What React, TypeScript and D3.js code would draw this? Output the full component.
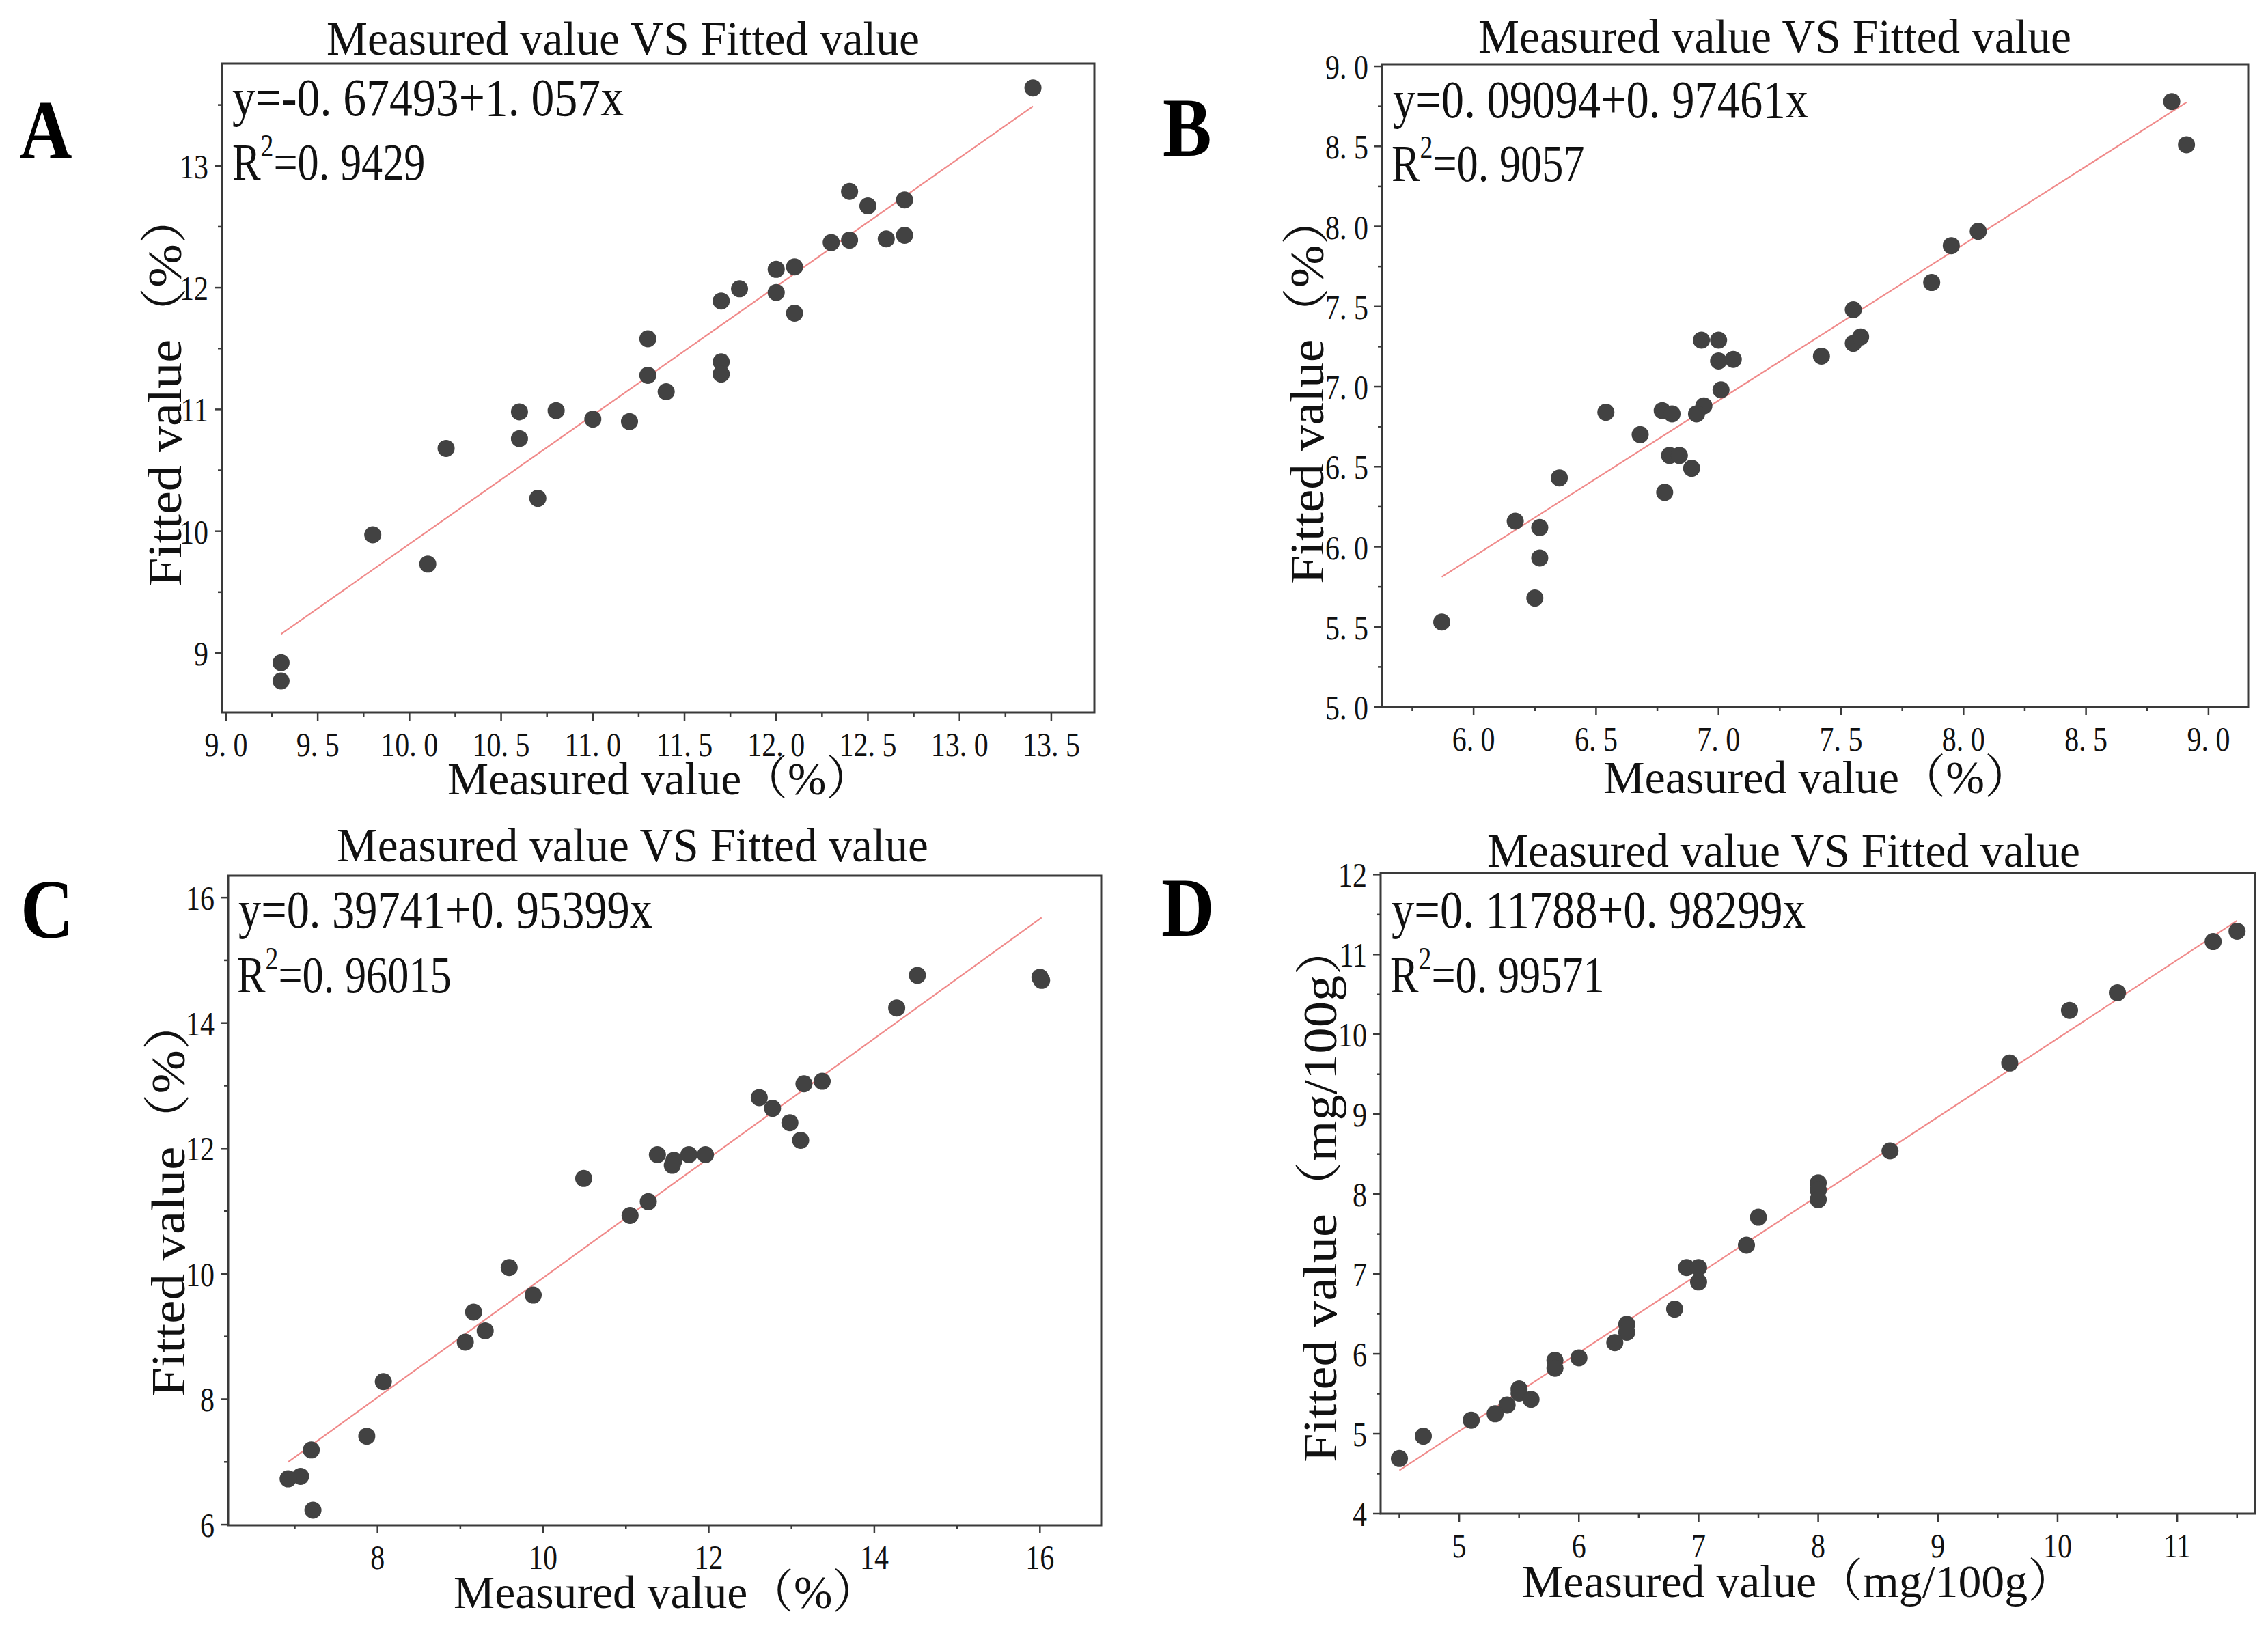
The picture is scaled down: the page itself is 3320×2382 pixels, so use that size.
import React from "react";
import * as d3 from "d3";

// ---- Panel A: measured vs fitted (%) ----
const measuredA = [13.4, 12.4, 12.5, 12.7, 12.7, 12.6, 12.4, 12.3, 12.1, 12.0, 12.0, 11.8, 11.7, 12.1, 11.3, 11.3, 11.4, 11.7, 11.7, 11.2, 11.0, 10.8, 10.6, 10.6, 10.7, 10.2, 9.8, 10.1, 9.3, 9.3];
const fittedA = [13.64, 12.79, 12.67, 12.72, 12.43, 12.4, 12.39, 12.37, 12.17, 12.15, 11.96, 11.99, 11.89, 11.79, 11.58, 11.28, 11.145, 11.39, 11.29, 10.9, 10.92, 10.99, 10.98, 10.76, 10.27, 10.68, 9.97, 9.73, 8.92, 8.77];
const fitA = { intercept: -0.67493, slope: 1.057, r2: "0.9429" };
const xTicksA = [9.0, 9.5, 10.0, 10.5, 11.0, 11.5, 12.0, 12.5, 13.0, 13.5];
const yTicksA = [9, 10, 11, 12, 13];

// ---- Panel B ----
const measuredB = [8.85, 8.91, 8.06, 7.95, 7.87, 7.55, 7.55, 7.58, 7.42, 6.93, 7.0, 7.0, 7.06, 7.01, 6.94, 6.91, 6.77, 6.81, 6.54, 6.68, 6.8, 6.84, 6.89, 6.78, 6.35, 6.17, 6.27, 6.27, 6.25, 5.87];
const fittedB = [8.78, 8.51, 7.97, 7.88, 7.65, 7.48, 7.27, 7.31, 7.19, 7.29, 7.29, 7.16, 7.17, 6.98, 6.88, 6.83, 6.85, 6.83, 6.84, 6.7, 6.57, 6.57, 6.49, 6.34, 6.43, 6.16, 6.12, 5.93, 5.68, 5.53];
const fitB = { intercept: 0.09094, slope: 0.97461, r2: "0.9057" };
const xTicksB = [6.0, 6.5, 7.0, 7.5, 8.0, 8.5, 9.0];
const yTicksB = [5.0, 5.5, 6.0, 6.5, 7.0, 7.5, 8.0, 8.5, 9.0];

// ---- Panel C ----
const measuredC = [16.0, 16.02, 14.52, 14.27, 13.37, 13.15, 12.61, 12.77, 12.98, 13.11, 11.38, 11.58, 11.56, 11.76, 11.96, 10.49, 11.27, 11.05, 9.59, 9.88, 9.16, 9.3, 9.06, 8.07, 7.87, 7.2, 7.07, 6.92, 7.22];
const fittedC = [14.73, 14.68, 14.76, 14.24, 13.07, 13.03, 12.81, 12.64, 12.41, 12.13, 11.9, 11.81, 11.73, 11.9, 11.9, 11.52, 11.15, 10.93, 10.1, 9.66, 9.39, 9.09, 8.91, 8.28, 7.41, 7.19, 6.77, 6.73, 6.23];
const fitC = { intercept: 0.39741, slope: 0.95399, r2: "0.96015" };
const xTicksC = [8, 10, 12, 14, 16];
const yTicksC = [6, 8, 10, 12, 14, 16];

// ---- Panel D (mg/100g) ----
const measuredD = [11.5, 11.3, 10.5, 10.1, 9.6, 8.6, 8.0, 8.0, 8.0, 7.5, 7.4, 6.9, 7.0, 7.0, 6.8, 6.4, 6.4, 6.3, 6.0, 5.8, 5.8, 5.5, 5.5, 5.6, 5.4, 5.3, 5.1, 4.7, 4.5];
const fittedD = [11.29, 11.16, 10.52, 10.3, 9.64, 8.54, 8.14, 8.05, 7.93, 7.71, 7.36, 7.08, 7.08, 6.9, 6.56, 6.37, 6.27, 6.14, 5.95, 5.92, 5.82, 5.56, 5.51, 5.43, 5.36, 5.25, 5.17, 4.97, 4.69];
const fitD = { intercept: 0.11788, slope: 0.98299, r2: "0.99571" };
const xTicksD = [5, 6, 7, 8, 9, 10, 11];
const yTicksD = [4, 5, 6, 7, 8, 9, 10, 11, 12];

const titleText = "Measured value VS Fitted value";
const panelLetters = ["A", "B", "C", "D"];
const xLabels = ["Measured value（%）", "Measured value（%）", "Measured value（%）", "Measured value（mg/100g）"];
const yLabels = ["Fitted value（%）", "Fitted value（%）", "Fitted value（%）", "Fitted value（mg/100g）"];

const FONT = "'Liberation Serif', 'Times New Roman', 'Noto Serif CJK SC', 'Noto Sans CJK SC', serif";
const W = 3320;
const H = 2382;

const fmt1 = (v: number) => v.toFixed(1).replace(".", ". ");
const fmt0 = (v: number) => String(v);
const fmtCoef = (v: number) => (v < 0 ? "-" : "") + String(Math.abs(v)).replace(".", ". ");

type Layout = {
  frame: { l: number; t: number; r: number; b: number };
  xDom: [number, number];
  yDom: [number, number];
  xMinorStep: number;
  yMinorStep: number;
  xFmt: (v: number) => string;
  yFmt: (v: number) => string;
  title: { cx: number; y: number; w: number };
  letter: { x: number; y: number };
  eq: { x: number; y: number; w: number };
  r2: { x: number; y: number };
  xLab: { x: number; y: number; w: number };
  yLab: { bottom: number; x: number; w: number };
};

const layouts: Layout[] = [
  {
    frame: { l: 325, t: 93, r: 1602, b: 1043 },
    xDom: [8.978, 13.735], yDom: [8.512, 13.84],
    xMinorStep: 0.25, yMinorStep: 0.5, xFmt: fmt1, yFmt: fmt0,
    title: { cx: 912, y: 80, w: 868 }, letter: { x: 28, y: 232 },
    eq: { x: 340, y: 169, w: 573 }, r2: { x: 340, y: 263 },
    xLab: { x: 655, y: 1163, w: 622 }, yLab: { bottom: 859, x: 265, w: 578 },
  },
  {
    frame: { l: 2023, t: 94, r: 3291, b: 1035 },
    xDom: [5.626, 9.162], yDom: [5.0, 9.013],
    xMinorStep: 0.25, yMinorStep: 0.25, xFmt: fmt1, yFmt: fmt1,
    title: { cx: 2598, y: 77, w: 868 }, letter: { x: 1702, y: 228 },
    eq: { x: 2039, y: 172, w: 608 }, r2: { x: 2037, y: 265 },
    xLab: { x: 2347, y: 1161, w: 626 }, yLab: { bottom: 855, x: 1937, w: 572 },
  },
  {
    frame: { l: 334, t: 1282, r: 1612, b: 2233 },
    xDom: [6.196, 16.74], yDom: [5.99, 16.35],
    xMinorStep: 1, yMinorStep: 1, xFmt: fmt0, yFmt: fmt0,
    title: { cx: 926, y: 1261, w: 866 }, letter: { x: 30, y: 1373 },
    eq: { x: 349, y: 1358, w: 606 }, r2: { x: 347, y: 1453 },
    xLab: { x: 664, y: 2354, w: 622 }, yLab: { bottom: 2045, x: 270, w: 585 },
  },
  {
    frame: { l: 2021, t: 1278, r: 3301, b: 2216 },
    xDom: [4.343, 11.65], yDom: [4.0, 12.02],
    xMinorStep: 0.5, yMinorStep: 0.5, xFmt: fmt0, yFmt: fmt0,
    title: { cx: 2611, y: 1269, w: 868 }, letter: { x: 1700, y: 1370 },
    eq: { x: 2037, y: 1358, w: 606 }, r2: { x: 2035, y: 1453 },
    xLab: { x: 2228, y: 2338, w: 808 }, yLab: { bottom: 2141, x: 1956, w: 790 },
  },
];

const series = [
  { measured: measuredA, fitted: fittedA, fit: fitA, xTicks: xTicksA, yTicks: yTicksA },
  { measured: measuredB, fitted: fittedB, fit: fitB, xTicks: xTicksB, yTicks: yTicksB },
  { measured: measuredC, fitted: fittedC, fit: fitC, xTicks: xTicksC, yTicks: yTicksC },
  { measured: measuredD, fitted: fittedD, fit: fitD, xTicks: xTicksD, yTicks: yTicksD },
];

const AXIS = "#3a3a3a";
const DOT = "#424242";
const LINE = "#f08a8a";
const TICK_FS = 50;
const TICK_SX = 0.84;

function minorTicks(dom: [number, number], step: number, majors: number[]) {
  const start = Math.ceil(dom[0] / step - 1e-9) * step;
  return d3
    .range(start, dom[1] + 1e-9, step)
    .filter((v) => !majors.some((m) => Math.abs(m - v) < 1e-6));
}

function Panel({ idx }: { idx: number }) {
  const L = layouts[idx];
  const S = series[idx];
  const { l, t, r, b } = L.frame;
  const x = d3.scaleLinear().domain(L.xDom).range([l, r]);
  const y = d3.scaleLinear().domain(L.yDom).range([b, t]);

  const [xMin, xMax] = d3.extent(S.measured) as [number, number];
  const fitLine = d3
    .line<number>()
    .x((v) => x(v))
    .y((v) => y(S.fit.intercept + S.fit.slope * v))([xMin, xMax]);

  const xMinor = minorTicks(L.xDom, L.xMinorStep, S.xTicks);
  const yMinor = minorTicks(L.yDom, L.yMinorStep, S.yTicks);

  const eqText = `y=${fmtCoef(S.fit.intercept)}+${fmtCoef(S.fit.slope)}x`;
  const r2Text = `=${S.fit.r2.replace(".", ". ")}`;

  return (
    <g fontFamily={FONT} fill="#111">
      {/* panel letter */}
      <text
        transform={`translate(${L.letter.x},${L.letter.y}) scale(0.88,1)`}
        fontSize={122}
        fontWeight="bold"
        fill="#000"
      >
        {panelLetters[idx]}
      </text>

      {/* title */}
      <text
        x={L.title.cx - L.title.w / 2}
        y={L.title.y}
        fontSize={70}
        textLength={L.title.w}
        lengthAdjust="spacingAndGlyphs"
      >
        {titleText}
      </text>

      {/* regression line */}
      <path d={fitLine || ""} fill="none" stroke={LINE} strokeWidth={2.2} />

      {/* points */}
      {S.measured.map((mv, i) => (
        <circle key={i} cx={x(mv)} cy={y(S.fitted[i])} r={12.5} fill={DOT} />
      ))}

      {/* frame */}
      <rect x={l} y={t} width={r - l} height={b - t} fill="none" stroke={AXIS} strokeWidth={3} />

      {/* x ticks */}
      {S.xTicks.map((v) => (
        <g key={"xt" + v}>
          <line x1={x(v)} x2={x(v)} y1={b} y2={b + 12} stroke={AXIS} strokeWidth={2.5} />
          <text
            transform={`translate(${x(v)},${b + 64}) scale(${TICK_SX},1)`}
            textAnchor="middle"
            fontSize={TICK_FS}
          >
            {L.xFmt(v)}
          </text>
        </g>
      ))}
      {xMinor.map((v) => (
        <line key={"xm" + v} x1={x(v)} x2={x(v)} y1={b} y2={b + 6} stroke={AXIS} strokeWidth={2.5} />
      ))}

      {/* y ticks */}
      {S.yTicks.map((v) => (
        <g key={"yt" + v}>
          <line x1={l - 11} x2={l} y1={y(v)} y2={y(v)} stroke={AXIS} strokeWidth={2.5} />
          <text
            transform={`translate(${l - 20},${y(v) + 18}) scale(${TICK_SX},1)`}
            textAnchor="end"
            fontSize={TICK_FS}
          >
            {L.yFmt(v)}
          </text>
        </g>
      ))}
      {yMinor.map((v) => (
        <line key={"ym" + v} x1={l - 6} x2={l} y1={y(v)} y2={y(v)} stroke={AXIS} strokeWidth={2.5} />
      ))}

      {/* equation and R² */}
      <text x={L.eq.x} y={L.eq.y} fontSize={78} textLength={L.eq.w} lengthAdjust="spacingAndGlyphs">
        {eqText}
      </text>
      <text transform={`translate(${L.r2.x},${L.r2.y}) scale(0.82,1)`} fontSize={76}>
        R
        <tspan fontSize={46} dy={-34}>2</tspan>
        <tspan dy={34}>{r2Text}</tspan>
      </text>

      {/* axis labels */}
      <text
        x={L.xLab.x}
        y={L.xLab.y}
        fontSize={68}
        textLength={L.xLab.w}
        lengthAdjust="spacingAndGlyphs"
      >
        {xLabels[idx]}
      </text>
      <g transform={`translate(${L.yLab.x},${L.yLab.bottom}) rotate(-90)`}>
        <text x={0} y={0} fontSize={70} textLength={L.yLab.w} lengthAdjust="spacingAndGlyphs">
          {yLabels[idx]}
        </text>
      </g>
    </g>
  );
}

export default function App() {
  return (
    <svg
      width={W}
      height={H}
      viewBox={`0 0 ${W} ${H}`}
      style={{ position: "absolute", left: 0, top: 0, display: "block", background: "#fff" }}
    >
      <rect x={0} y={0} width={W} height={H} fill="#fff" />
      {layouts.map((_, i) => (
        <Panel key={i} idx={i} />
      ))}
    </svg>
  );
}
